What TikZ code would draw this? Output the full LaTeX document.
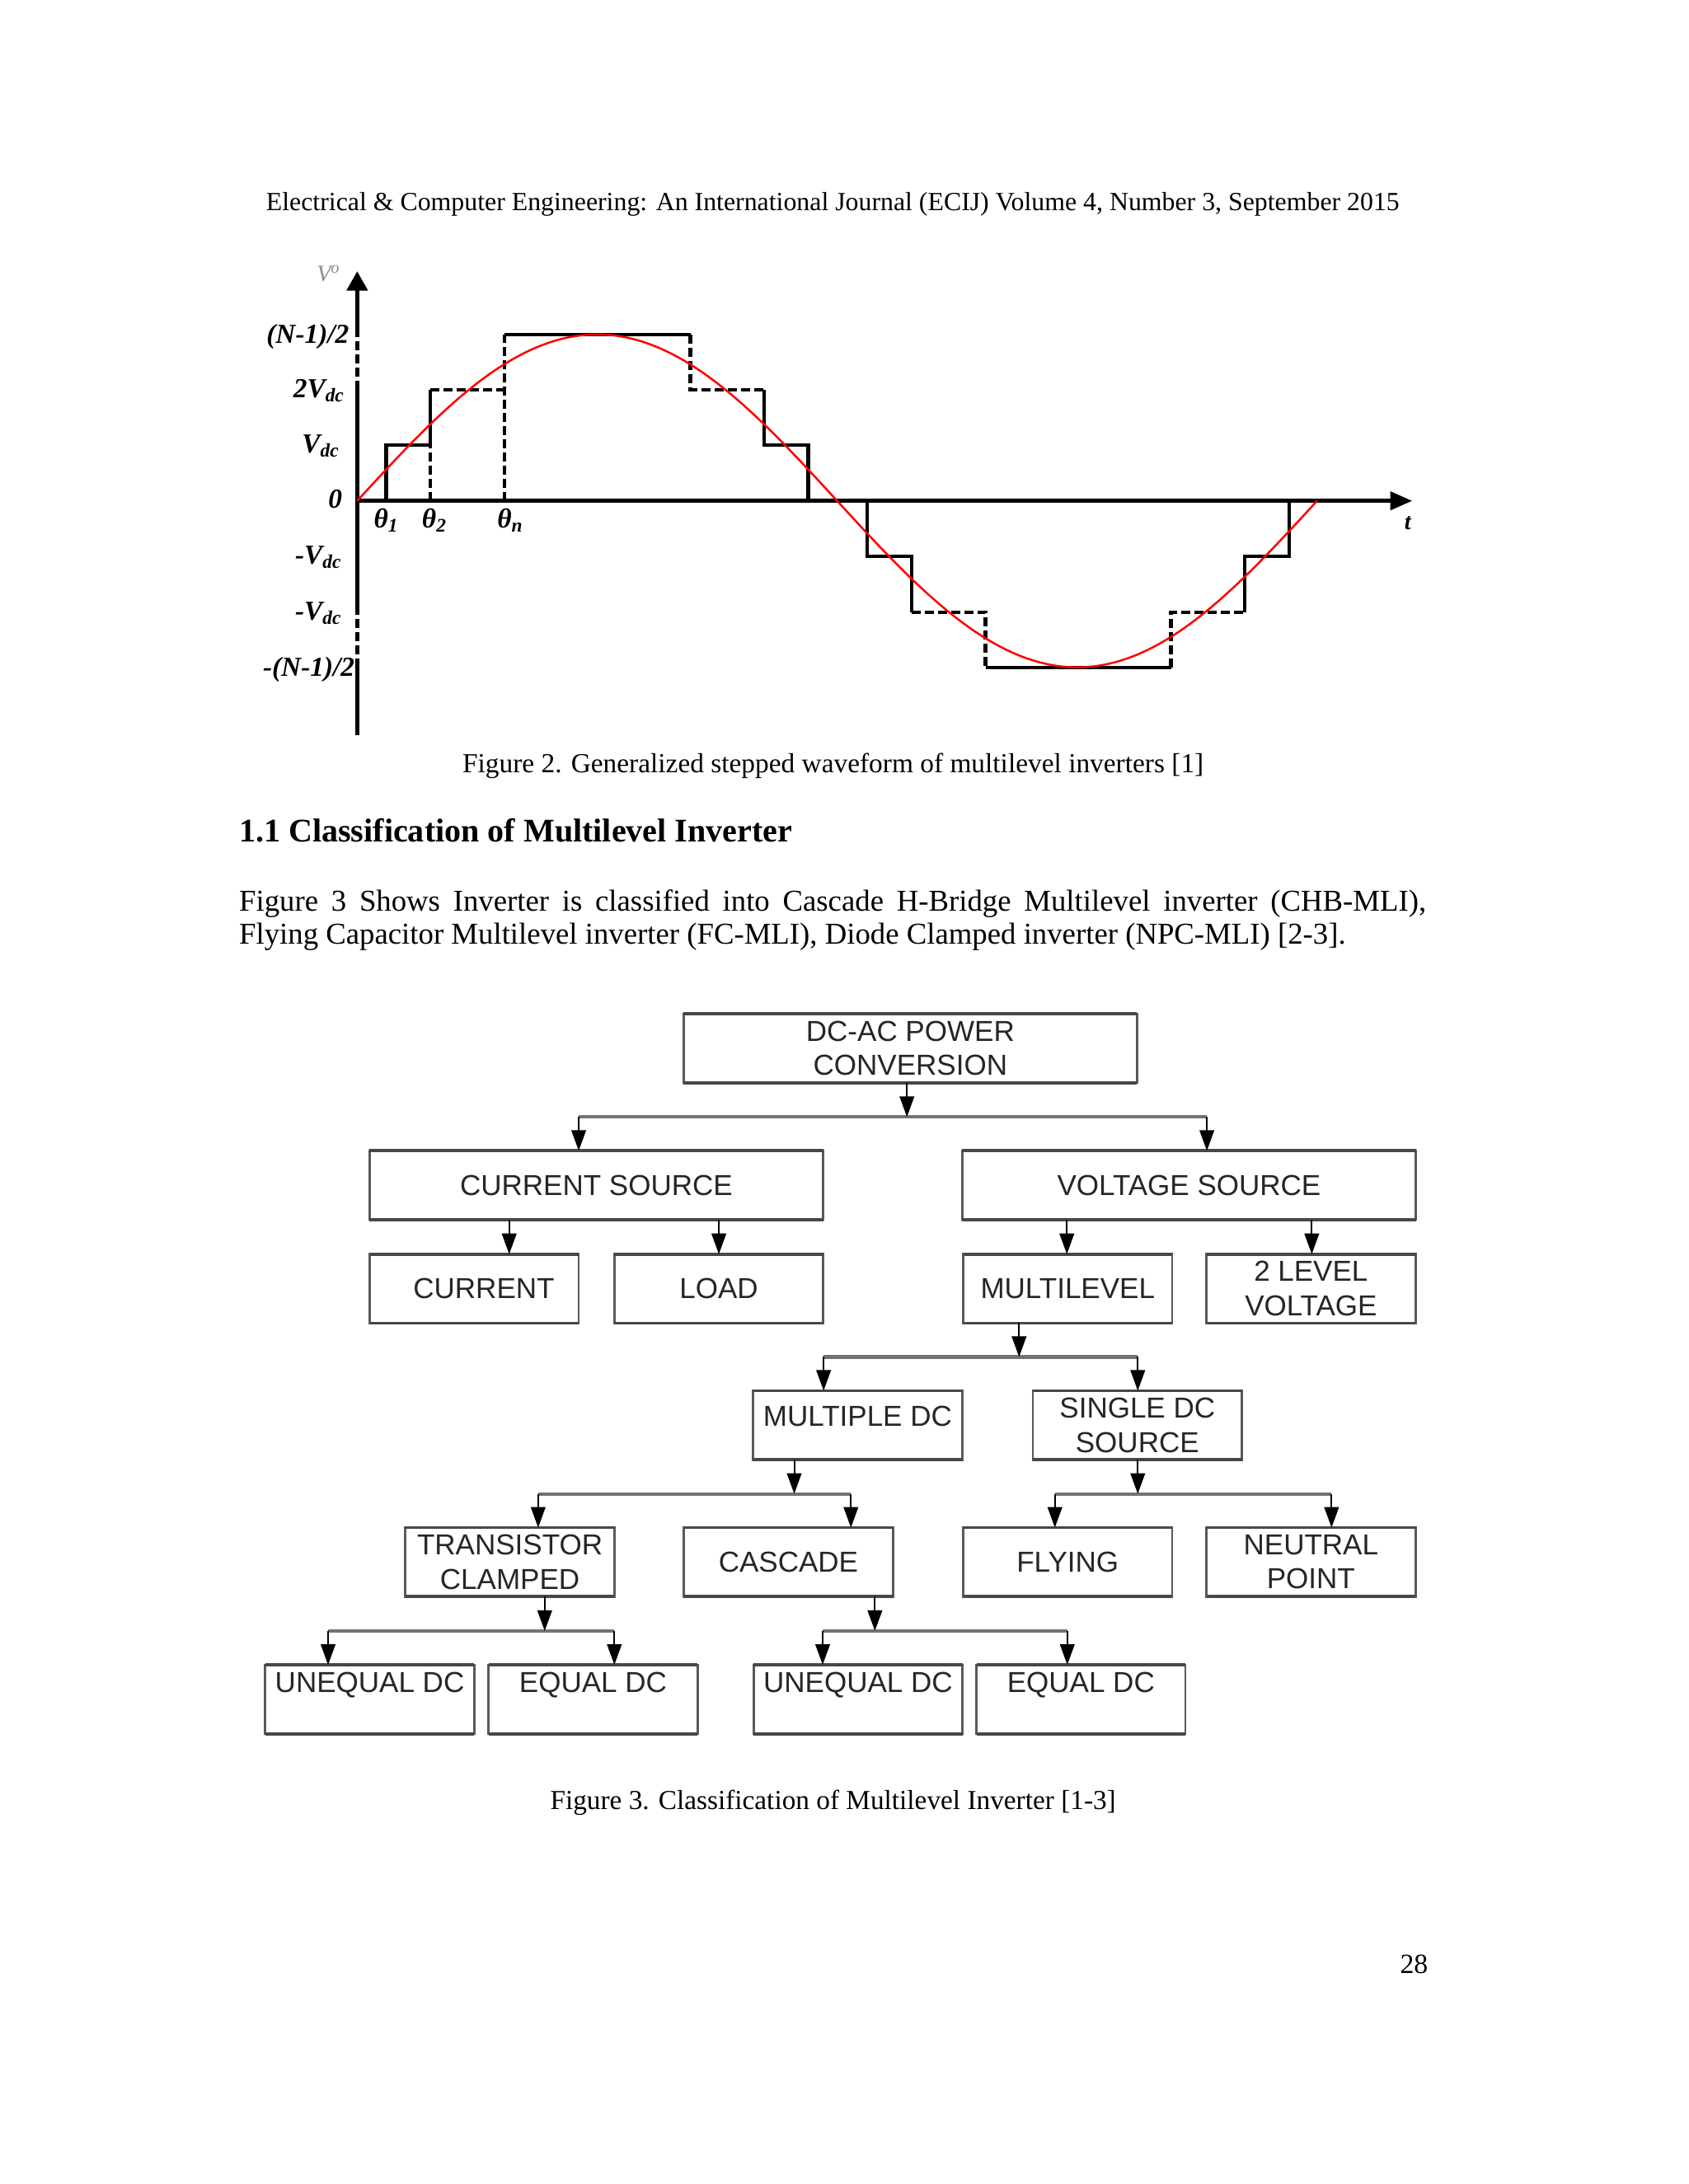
\documentclass[tikz,border=0pt]{standalone}
\usepackage{graphicx}
\usepackage{fontspec}
\setmainfont{Liberation Serif}
\newfontfamily\arialf{Liberation Sans}
\usetikzlibrary{arrows.meta}
\newlength\Uu \setlength\Uu{0.50678pt}
\newlength\LineB
\begin{document}
\settowidth\LineB{\normalfont Flying Capacitor Multilevel inverter (FC-MLI), Diode Clamped inverter (NPC-MLI) [2-3].}\global\LineB=\LineB
\begin{tikzpicture}[x=0.50678pt,y=-0.50678pt,
  txt/.style={inner sep=0pt, outer sep=0pt},
  wl/.style={txt, font=\fontsize{10}{12}\selectfont\bfseries\itshape},
  axisln/.style={line width=1.4pt, black},
  stepln/.style={line width=1.3pt, black, line join=miter},
  dsh/.style={dash pattern=on 3.3pt off 1.5pt},
  fb/.style={draw=black!65, line width=0.85pt, inner sep=0pt, outer sep=0pt,
     font=\arialf\fontsize{10.5}{12.4}\selectfont, text=black!85, align=center,
     minimum height=25.09pt},
  big/.style={fb, minimum width=164.96pt},
  small/.style={fb, minimum width=76.0pt},
  arr/.style={draw=black, line width=0.6pt, -{Triangle[length=7.5pt,width=5.3pt]}},
  barln/.style={draw=black!55, line width=1.25pt},
  hedge/.style={draw=black!72, line width=1.1pt}
]
\fill[white] (0,0) rectangle (1212,1568);
\useasboundingbox (0,0) rectangle (1212,1568);

% ---------- page texts ----------
\node[txt, anchor=base] (hdr) at (597.8,151.3) {\resizebox{813.4\Uu}{!}{Electrical \& Computer Engineering: An International Journal (ECIJ) Volume 4, Number 3, September 2015}};
\node[txt, anchor=base] (cap2) at (598,555) {\resizebox{532\Uu}{!}{Figure 2. Generalized stepped waveform of multilevel inverters [1]}};
\node[txt, anchor=base west] (head) at (171.7,604.6) {\resizebox{397\Uu}{!}{\bfseries 1.1 Classification of Multilevel Inverter}};
\pgfmathsetmacro\ps{794.3*0.50678/max(\LineB,1)}
\pgfmathsetlengthmacro\wa{852*0.50678/\ps}
\node[txt, anchor=base west] (par1) at (171.7,654) {\scalebox{\ps}{\makebox[\wa][s]{Figure 3 Shows Inverter is classified into Cascade H-Bridge Multilevel inverter (CHB-MLI),}}};
\node[txt, anchor=base west] (par2) at (171.7,678) {\scalebox{\ps}{Flying Capacitor Multilevel inverter (FC-MLI), Diode Clamped inverter (NPC-MLI) [2-3].}};
\node[txt, anchor=base] (cap3) at (598,1299) {\resizebox{406\Uu}{!}{Figure 3. Classification of Multilevel Inverter [1-3]}};
\node[txt, anchor=base] (pg) at (1015,1417) {\resizebox{20\Uu}{!}{28}};

% ---------- waveform ----------
\draw[axisln] (256.4,527.7) -- (256.4,479.3);
\draw[axisln,dsh] (256.4,479.3) -- (256.4,439.5);
\draw[axisln] (256.4,439.5) -- (256.4,279.8);
\draw[axisln,dsh] (256.4,279.8) -- (256.4,240.1);
\draw[axisln,-{Triangle[length=7pt,width=7.5pt]}] (256.4,240.1) -- (256.4,194.8);
\draw[axisln,-{Triangle[length=8pt,width=6.6pt]}] (255.7,359.6) -- (1013.7,359.6);

% positive half
\draw[stepln] (277.2,359.6) -- (277.2,319.5) -- (308.7,319.5) -- (308.7,279.8);
\draw[stepln,dsh] (308.7,359.6) -- (308.7,319.5);
\draw[stepln,dsh] (308.7,279.8) -- (362.1,279.8);
\draw[stepln,dsh] (362.1,359.6) -- (362.1,240.1);
\draw[stepln] (362.1,240.1) -- (495.6,240.1);
\draw[stepln,dsh] (495.6,240.1) -- (495.6,279.8) -- (548.5,279.8);
\draw[stepln] (548.5,279.8) -- (548.5,319.5) -- (580.2,319.5) -- (580.2,359.6);
% negative half
\draw[stepln] (622.4,359.6) -- (622.4,399.5) -- (654.5,399.5) -- (654.5,439.5);
\draw[stepln,dsh] (654.5,439.5) -- (707.4,439.5) -- (707.4,479.3);
\draw[stepln] (707.4,479.3) -- (840.5,479.3);
\draw[stepln,dsh] (840.5,479.3) -- (840.5,439.5) -- (893.5,439.5);
\draw[stepln] (893.5,439.5) -- (893.5,399.5) -- (925.5,399.5) -- (925.5,359.6);

% sine
\draw[red, line width=0.75pt] plot[domain=0:689, samples=200, smooth] ({256.4+\x},{359.6-119.5*sin(\x/689*360)});

% labels
\node[txt, anchor=base, text=black!45, font=\fontsize{8.5}{10}\selectfont\itshape] (vo) at (236,202) {V\textsuperscript{o}};
\node[wl, anchor=base east] (lN) at (250.5,246.5) {(N-1)/2};
\node[wl, anchor=base east] (l2) at (247.6,285.5) {2V\textsubscript{dc}};
\node[wl, anchor=base east] (l1) at (244,325) {V\textsubscript{dc}};
\node[wl, anchor=base east] (l0) at (245.6,364.5) {0};
\node[wl, anchor=base east] (lm1) at (245.6,405) {-V\textsubscript{dc}};
\node[wl, anchor=base east] (lm2) at (245.6,445.5) {-V\textsubscript{dc}};
\node[wl, anchor=base east] (lmN) at (254.5,485.5) {-(N-1)/2};
\node[wl, anchor=base] (t1) at (277.5,379) {θ\textsubscript{1}};
\node[wl, anchor=base] (t2) at (312,379) {θ\textsubscript{2}};
\node[wl, anchor=base] (tn) at (366.5,379) {θ\textsubscript{n}};
\node[wl, anchor=base, font=\fontsize{8.5}{10}\selectfont\bfseries\itshape] (tt) at (1010.5,380) {t};

% ---------- flowchart ----------
\node[big] (dcac) at (653.45,752.55) {DC-AC POWER\\CONVERSION};
\node[big] (cs) at (428.05,850.95) {CURRENT SOURCE};
\node[big] (vs) at (853.5,850.95) {VOLTAGE SOURCE};
\node[small] (cur) at (340.4,925.15) {\hspace*{7pt}CURRENT};
\node[small] (load) at (516,925.15) {LOAD};
\node[small] (mult) at (766.4,925.15) {MULTILEVEL};
\node[small] (two) at (941,925.15) {2 LEVEL\\VOLTAGE};
\node[small, text height=7.5pt, text depth=6.9pt] (mdc) at (615.6,1023.2) {MULTIPLE DC};
\node[small] (sdc) at (816.4,1023.2) {SINGLE DC\\SOURCE};
\node[small] (tc) at (366,1121.5) {TRANSISTOR\\CLAMPED};
\node[small] (casc) at (565.9,1121.5) {CASCADE};
\node[small] (fly) at (766.4,1121.5) {FLYING};
\node[small] (neut) at (941,1121.5) {NEUTRAL\\POINT};
\node[small, text height=7.5pt, text depth=12.5pt] (ud1) at (265.4,1220) {UNEQUAL DC};
\node[small, text height=7.5pt, text depth=12.5pt] (ed1) at (425.7,1220) {EQUAL DC};
\node[small, text height=7.5pt, text depth=12.5pt] (ud2) at (615.9,1220) {UNEQUAL DC};
\node[small, text height=7.5pt, text depth=12.5pt] (ed2) at (775.9,1220) {EQUAL DC};

\foreach \n in {dcac,cs,vs,cur,load,mult,two,mdc,sdc,tc,casc,fly,neut,ud1,ed1,ud2,ed2}{
  \draw[hedge] (\n.north west) -- (\n.north east);
  \draw[hedge] (\n.south west) -- (\n.south east);
}

% junction coordinates
\coordinate (j1) at (651,801.9);   \coordinate (j1l) at (415.4,801.9);  \coordinate (j1r) at (866.3,801.9);
\coordinate (j2) at (731.5,974.2); \coordinate (j2l) at (591.2,974.2);  \coordinate (j2r) at (816.7,974.2);
\coordinate (j3) at (570.1,1072.5);\coordinate (j3l) at (386.3,1072.5); \coordinate (j3r) at (610.8,1072.5);
\coordinate (j4) at (816.7,1072.5);\coordinate (j4l) at (757.2,1072.5); \coordinate (j4r) at (955.8,1072.5);
\coordinate (j5) at (391,1170.9);  \coordinate (j5l) at (235.5,1170.9); \coordinate (j5r) at (441,1170.9);
\coordinate (j6) at (628,1170.9);  \coordinate (j6l) at (590.5,1170.9); \coordinate (j6r) at (766.1,1170.9);
\coordinate (k1) at (365.5,0); \coordinate (k2) at (516,0); \coordinate (k3) at (765.8,0); \coordinate (k4) at (941.6,0);

% bars
\draw[barln] (j1l) -- (j1r);
\draw[barln] (j2l) -- (j2r);
\draw[barln] (j3l) -- (j3r);
\draw[barln] (j4l) -- (j4r);
\draw[barln] (j5l) -- (j5r);
\draw[barln] (j6l) -- (j6r);

% arrows into bars
\draw[arr] (dcac.south -| j1) -- (j1);
\draw[arr] (mult.south -| j2) -- (j2);
\draw[arr] (mdc.south -| j3) -- (j3);
\draw[arr] (sdc.south -| j4) -- (j4);
\draw[arr] (tc.south -| j5) -- (j5);
\draw[arr] (casc.south -| j6) -- (j6);

% arrows from bars to children
\draw[arr] (j1l) -- (cs.north -| j1l);
\draw[arr] (j1r) -- (vs.north -| j1r);
\draw[arr] (j2l) -- (mdc.north -| j2l);
\draw[arr] (j2r) -- (sdc.north -| j2r);
\draw[arr] (j3l) -- (tc.north -| j3l);
\draw[arr] (j3r) -- (casc.north -| j3r);
\draw[arr] (j4l) -- (fly.north -| j4l);
\draw[arr] (j4r) -- (neut.north -| j4r);
\draw[arr] (j5l) -- (ud1.north -| j5l);
\draw[arr] (j5r) -- (ed1.north -| j5r);
\draw[arr] (j6l) -- (ud2.north -| j6l);
\draw[arr] (j6r) -- (ed2.north -| j6r);

% direct arrows
\draw[arr] (cs.south -| k1) -- (cur.north -| k1);
\draw[arr] (cs.south -| k2) -- (load.north -| k2);
\draw[arr] (vs.south -| k3) -- (mult.north -| k3);
\draw[arr] (vs.south -| k4) -- (two.north -| k4);
\end{tikzpicture}
\end{document}
